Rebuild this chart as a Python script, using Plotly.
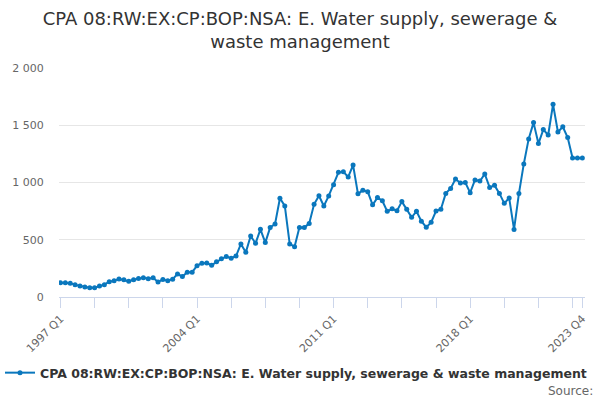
import plotly.graph_objects as go

years = list(range(1997, 2024))
quarters = [f"{y} Q{q}" for y in years for q in range(1, 5)]

values = [
    125, 124, 121, 106, 96, 87, 81, 81, 96, 108, 134, 141,
    158, 150, 137, 151, 162, 168, 160, 168, 131, 153, 143, 156,
    201, 179, 216, 216, 274, 294, 296, 277, 307, 334, 354, 339,
    358, 463, 390, 533, 469, 591, 475, 608, 638, 862, 795, 463,
    439, 608, 606, 643, 810, 884, 795, 883, 981, 1089, 1094, 1048,
    1152, 901, 933, 920, 805, 868, 841, 748, 770, 753, 833, 766,
    696, 748, 662, 610, 652, 751, 767, 905, 948, 1030, 996, 1000,
    911, 1022, 1013, 1074, 957, 975, 905, 818, 865, 590, 903, 1162,
    1381, 1523, 1340, 1462, 1415, 1683, 1441, 1487, 1392, 1215, 1213, 1215,
]

label_quarters = ["1997 Q1", "2004 Q1", "2011 Q1", "2018 Q1", "2023 Q4"]
y_ticks = [0, 500, 1000, 1500, 2000]

series_name = "CPA 08:RW:EX:CP:BOP:NSA: E. Water supply, sewerage & waste management"
title_text = "CPA 08:RW:EX:CP:BOP:NSA: E. Water supply, sewerage &<br>waste management"

idx = list(range(len(quarters)))
major_vals = [quarters.index(q) for q in label_quarters]
minor_vals = [i for i in range(0, len(quarters), 7) if i not in major_vals]

FONT = "DejaVu Sans"
color = "#0a77bd"
x_range = [-0.3, 107.55]

fig = go.Figure()
fig.add_trace(go.Scatter(
    x=idx, y=values, mode="lines+markers", name=series_name,
    line=dict(color=color, width=2),
    marker=dict(color=color, size=5, symbol="circle"),
    text=quarters, hovertemplate="%{text}: %{y}<extra></extra>",
))
# invisible helper trace so the minor-tick axis is drawn
fig.add_trace(go.Scatter(
    x=idx, y=values, xaxis="x2", mode="lines", opacity=0,
    line=dict(width=0), showlegend=False, hoverinfo="skip",
))

fig.update_layout(
    width=600, height=400,
    margin=dict(l=57, r=15, t=68, b=103),
    paper_bgcolor="white", plot_bgcolor="white",
    separators=". ",
    font=dict(family=FONT, color="#666666", size=11),
    title=dict(text=title_text, x=0.5, xanchor="center",
               y=0.9375, yanchor="top",
               font=dict(family=FONT, size=18, color="#333333")),
    showlegend=True,
    legend=dict(orientation="h", x=0.447, xanchor="center",
                y=-0.332, yanchor="middle",
                font=dict(family=FONT, size=12.5, color="#333333"),
                itemwidth=30),
    xaxis=dict(range=x_range, tickmode="array", tickvals=major_vals,
               ticktext=label_quarters, tickangle=-45, ticks="outside",
               ticklen=10, tickcolor="#ccd6eb", showline=True, linecolor="#ccd6eb",
               showgrid=False, zeroline=False,
               tickfont=dict(family=FONT, size=11, color="#666666")),
    xaxis2=dict(range=x_range, overlaying="x", anchor="y", side="bottom",
                tickmode="array", tickvals=minor_vals, showticklabels=False,
                ticks="outside", ticklen=10, tickcolor="#ccd6eb",
                showline=False, showgrid=False, zeroline=False),
    yaxis=dict(range=[0, 2000], tickmode="array", tickvals=y_ticks,
               separatethousands=True,
               gridcolor="#e6e6e6", zeroline=False, showline=False,
               ticks="outside", ticklen=12, tickcolor="rgba(0,0,0,0)",
               tickfont=dict(family=FONT, size=11, color="#666666")),
    annotations=[dict(text="Source:", xref="paper", yref="paper", x=1.019, y=-0.41,
                      xanchor="right", yanchor="middle", showarrow=False,
                      font=dict(family=FONT, size=12, color="#666666"))],
)
fig.update_layout(legend_font_weight="bold")

fig.write_html("out.html")
